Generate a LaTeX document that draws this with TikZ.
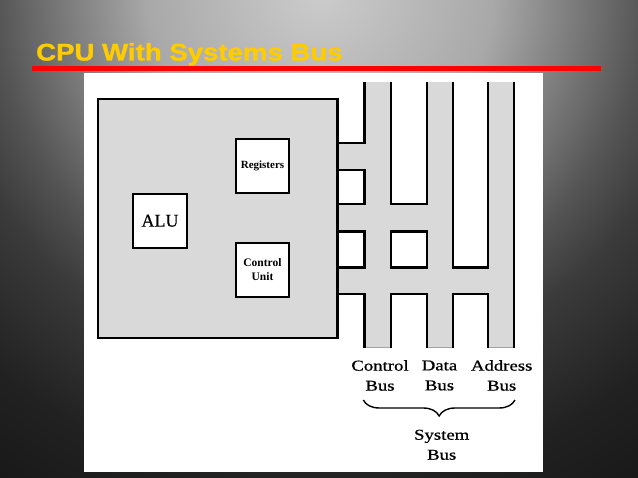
\documentclass[tikz,border=0pt]{standalone}
\usepackage{fontspec}
\setmainfont{Liberation Serif}
\newfontfamily\widefont[FakeStretch=1.25, FakeBold=0.8]{Liberation Serif}
\newfontfamily\unitfont[FakeBold=0.6]{Liberation Serif}
\newfontfamily\headfont[FakeStretch=1.15, FakeBold=1.2]{Liberation Sans}
\usepackage{tikz}
\usetikzlibrary{positioning, decorations.pathreplacing}

\definecolor{busgray}{HTML}{D9D9D9}
\definecolor{headyellow}{HTML}{FFCC00}
\pgfdeclareradialshading{slideglow}{\pgfpoint{0bp}{0bp}}{color(0bp)=(black!20); color(173bp)=(black!34); color(324bp)=(black!67); color(383bp)=(black!77); color(497bp)=(black!87); color(600bp)=(black!91)}

\tikzset{
  unitbox/.style = {draw, line width=2pt, fill=white,
      minimum width=53.5pt, minimum height=53.7pt,
      inner sep=0pt, align=center},
  busline/.style = {line width=2.4pt},
  buslabel/.style = {align=center, inner sep=0pt,
      font=\widefont\fontsize{15}{20}\selectfont}
}

\begin{document}
\begin{tikzpicture} [x=1pt, y=-1pt]
          \useasboundingbox (0,0) rectangle (638,478);

          % Background
          \begin{scope}
            \clip (0,0) rectangle (638,478);
            \fill [black!91] (0,0) rectangle (638,478);
            \pgftext[at=\pgfpoint{320pt}{10pt}]{\pgfuseshading{slideglow}}
          \end{scope}

          % Title
          \node (title) [anchor=base west, inner sep=0pt, text=headyellow,
              font=\headfont\bfseries\fontsize{24}{28}\selectfont] at (36,60.5) {CPU With Systems Bus};
          \coordinate (rl) at (31.7,68.5);
          \coordinate (rr) at (600.7,68.5);
          \draw [red, line width=5.3pt] (rl) -- (rr);

          % Panel
          \fill [white] (84.3,73.3) rectangle (542.7,472.3);

          % Bus fills
          \foreach \xl/\xr in {364.3/390.7, 426.7/452.7, 488/514} {
            \fill [busgray] (\xl,82) rectangle (\xr,348);
            \draw [busgray!75!black, line width=0.5pt] (\xl,347.6) -- (\xr,347.6);
          }
          \fill [busgray] (338.5,143.3) rectangle (364.3,170);
          \fill [busgray] (338.5,204.3) rectangle (426.7,231.7);
          \fill [busgray] (338.5,267.7) rectangle (488,294);

          % CPU
          \node (cpu) [draw, line width=2.4pt, fill=busgray, inner sep=0pt,
              minimum width=239.6pt, minimum height=239pt] at (217.5,218.8) {};
          \node (alu) [unitbox, font=\unitfont\fontsize{18}{20}\selectfont] at (160,220.8) {ALU};
          \node (reg) [unitbox, font=\bfseries\fontsize{11}{13}\selectfont] at (262.5,166.2) {Registers};
          \node (cu) [unitbox, font=\bfseries\fontsize{11.5}{13.4}\selectfont] at (262.5,269.7) {Control\\Unit};

          % Bus lines
          \draw [busline] (337.3,143.3) -- (364.3,143.3) -- (364.3,82);
          \draw [busline] (337.3,170) rectangle (364.3,204.3);
          \draw [busline] (337.3,231.7) rectangle (364.3,267.7);
          \draw [busline] (337.3,294) -- (364.3,294) -- (364.3,348);
          \draw [busline] (390.7,82) -- (390.7,204.3) -- (426.7,204.3) -- (426.7,82);
          \draw [busline] (390.7,231.7) rectangle (426.7,267.7);
          \draw [busline] (390.7,348) -- (390.7,294) -- (426.7,294) -- (426.7,348);
          \draw [busline] (452.7,82) -- (452.7,267.7) -- (488,267.7) -- (488,82);
          \draw [busline] (452.7,348) -- (452.7,294) -- (488,294) -- (488,348);
          \draw [busline] (514,82) -- (514,348);

          % Labels
          \node (lc) [buslabel] at (380,375.5) {Control\\Bus};
          \node (ld) [buslabel] at (439.5,375.5) {Data\\Bus};
          \node (la) [buslabel] at (501.7,375.5) {Address\\Bus};

          % System bus brace
          \coordinate (bl) at (363.3,400);
          \coordinate (br) at (515,400);
          \draw [decorate, decoration={brace, amplitude=16pt}, line width=1.4pt] (br) -- (bl);
          \node (sys) [buslabel] at (441.7,444.8) {System\\Bus};

        \end{tikzpicture}
\end{document}
